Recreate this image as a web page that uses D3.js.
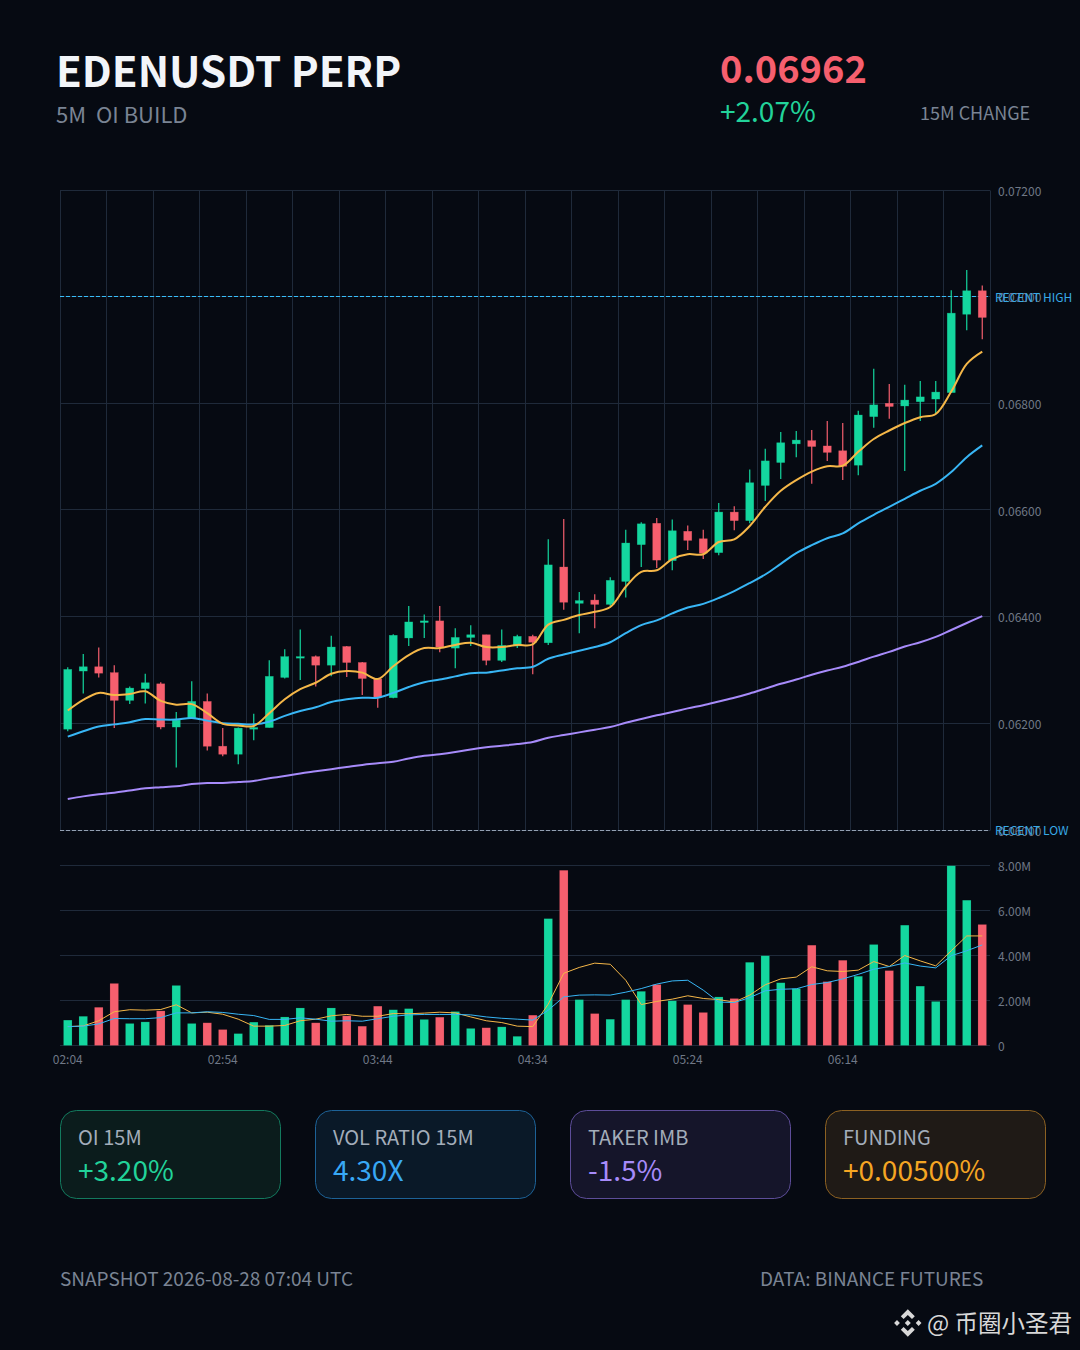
<!DOCTYPE html>
<html><head><meta charset="utf-8">
<script src="https://cdn.jsdelivr.net/npm/d3@7/dist/d3.min.js"></script>
<style>
html,body{margin:0;padding:0;background:#060a12;}
svg{display:block;font-family:"Noto Sans CJK SC","Noto Sans",sans-serif;}
</style></head><body><svg id="c" width="1080" height="1350"></svg>
<script>
const opens=[0.0619,0.06299,0.06307,0.06296,0.06244,0.06266,0.06275,0.06194,0.06211,0.06242,0.06158,0.06143,0.0619,0.06193,0.06287,0.06325,0.06326,0.0631,0.06345,0.06315,0.06284,0.06249,0.06361,0.0639,0.06393,0.06342,0.06362,0.06367,0.06319,0.06346,0.06364,0.06352,0.06494,0.06426,0.06432,0.06424,0.06467,0.06536,0.06576,0.06506,0.06561,0.06547,0.06521,0.06597,0.06581,0.06647,0.0669,0.06725,0.06731,0.06721,0.06712,0.06685,0.06776,0.06801,0.06796,0.06804,0.06809,0.06821,0.06968,0.07012];
const highs=[0.06306,0.06331,0.06343,0.0631,0.0627,0.06294,0.06278,0.06222,0.0628,0.06257,0.06192,0.06193,0.06219,0.06319,0.0634,0.06377,0.06328,0.06365,0.06346,0.06316,0.06286,0.06368,0.06421,0.06405,0.06421,0.06379,0.06385,0.06367,0.06377,0.06367,0.06367,0.06546,0.06584,0.06447,0.06443,0.06475,0.06564,0.06578,0.06586,0.06583,0.06572,0.06564,0.06614,0.06608,0.06677,0.06716,0.06747,0.06749,0.06751,0.06768,0.06764,0.06787,0.06866,0.06837,0.06836,0.06843,0.06843,0.07013,0.07051,0.07022];
const lows=[0.06186,0.06257,0.06287,0.06192,0.06237,0.06238,0.0619,0.06118,0.0621,0.0615,0.06139,0.06124,0.06169,0.06193,0.06285,0.06282,0.0627,0.06289,0.06288,0.06254,0.0623,0.06248,0.06346,0.06361,0.06334,0.06304,0.06346,0.0631,0.06316,0.06342,0.06293,0.06348,0.06414,0.0637,0.06379,0.06421,0.06437,0.06494,0.06492,0.06488,0.06526,0.06509,0.06516,0.06563,0.06576,0.06618,0.06659,0.067,0.0665,0.06693,0.06657,0.06666,0.06755,0.06772,0.06674,0.06768,0.06781,0.06821,0.06938,0.06921];
const closes=[0.06302,0.06307,0.06295,0.06244,0.06267,0.06277,0.06194,0.06207,0.06242,0.06158,0.06143,0.06192,0.06193,0.06289,0.06326,0.06326,0.0631,0.06344,0.06315,0.06285,0.0625,0.06366,0.06391,0.06393,0.06344,0.06362,0.06367,0.06319,0.06347,0.06364,0.06353,0.06498,0.06428,0.06431,0.06424,0.06469,0.06539,0.06575,0.06507,0.06562,0.06544,0.0652,0.06597,0.06581,0.06652,0.06693,0.06727,0.06732,0.0672,0.06709,0.06683,0.06779,0.06798,0.06795,0.06807,0.06813,0.06822,0.0697,0.07012,0.06962];
const emaFast=[0.06225,0.06245,0.06258,0.06254,0.06256,0.06261,0.06243,0.06236,0.06237,0.0622,0.062,0.06197,0.06196,0.0622,0.06246,0.06265,0.06277,0.06294,0.06299,0.06296,0.06284,0.06308,0.06329,0.06342,0.06342,0.06348,0.06352,0.06344,0.06344,0.06348,0.06349,0.06386,0.06395,0.06404,0.0641,0.06419,0.06457,0.06485,0.06488,0.06509,0.06518,0.06518,0.06541,0.06546,0.06571,0.06607,0.06637,0.06657,0.06673,0.06683,0.06684,0.0671,0.06734,0.0675,0.06764,0.06775,0.06781,0.06823,0.06875,0.06898];
const emaMid=[0.06176,0.06186,0.06195,0.06199,0.06203,0.06209,0.06208,0.06208,0.06211,0.06206,0.06201,0.062,0.06199,0.06204,0.06215,0.06224,0.06231,0.06241,0.06246,0.06249,0.06249,0.06258,0.06269,0.06278,0.06283,0.06289,0.06295,0.06296,0.063,0.06304,0.06307,0.06322,0.0633,0.06337,0.06344,0.06353,0.0637,0.06385,0.06394,0.06407,0.06418,0.06425,0.06436,0.06449,0.06464,0.0648,0.065,0.0652,0.06535,0.06548,0.06557,0.06576,0.06592,0.06607,0.06622,0.06637,0.0665,0.06672,0.067,0.06722];
const emaSlow=[0.06059,0.06064,0.06068,0.06071,0.06075,0.06079,0.06081,0.06083,0.06087,0.06089,0.06089,0.06091,0.06093,0.06098,0.06102,0.06107,0.06111,0.06115,0.06119,0.06123,0.06126,0.06129,0.06135,0.0614,0.06143,0.06147,0.06152,0.06156,0.06159,0.06162,0.06166,0.06174,0.06179,0.06184,0.06189,0.06194,0.06202,0.06209,0.06216,0.06222,0.06229,0.06235,0.06242,0.06249,0.06257,0.06266,0.06275,0.06283,0.06292,0.063,0.06307,0.06316,0.06326,0.06335,0.06345,0.06353,0.06363,0.06376,0.06389,0.06402];
const volumes=[1.13,1.30,1.70,2.76,0.98,1.05,1.54,2.67,0.98,1.01,0.71,0.53,1.04,0.90,1.27,1.67,1.01,1.67,1.32,0.86,1.75,1.59,1.64,1.16,1.26,1.51,0.76,0.79,0.83,0.41,1.35,5.64,7.79,2.04,1.42,1.17,2.04,2.41,2.71,1.99,1.82,1.47,2.16,2.09,3.70,3.99,2.79,2.53,4.46,2.84,3.79,3.08,4.49,3.33,5.35,2.64,1.96,7.99,6.46,5.38];
const volFast=[0.84,0.87,1.10,1.50,1.59,1.57,1.60,1.81,1.45,1.48,1.39,1.17,0.86,0.86,0.89,1.10,1.17,1.32,1.38,1.30,1.30,1.42,1.41,1.44,1.48,1.45,1.27,1.10,1.02,0.86,0.84,1.84,3.21,3.47,3.66,3.61,2.90,1.82,1.96,2.06,2.21,2.09,2.04,1.93,2.24,2.70,2.96,3.04,3.50,3.32,3.29,3.35,3.73,3.51,4.00,3.76,3.54,4.21,4.87,4.87];
const volSlow=[0.84,0.86,0.96,1.20,1.19,1.19,1.24,1.45,1.45,1.50,1.47,1.39,1.33,1.16,1.16,1.23,1.17,1.08,1.10,1.08,1.19,1.30,1.36,1.38,1.38,1.38,1.36,1.27,1.21,1.17,1.13,1.57,2.16,2.24,2.25,2.24,2.37,2.53,2.73,2.87,2.90,2.46,1.93,1.91,2.13,2.43,2.50,2.52,2.71,2.80,2.96,3.16,3.39,3.51,3.67,3.53,3.45,3.99,4.21,4.47];
const timeLabels=["02:04","02:54","03:44","04:34","05:24","06:14"];
const timeLabelIdx=[0,10,20,30,40,50];
const priceTicks=[0.072,0.07,0.068,0.066,0.064,0.062,0.06];
const volTicks=[0,2,4,6,8];
const recentHigh=0.07, recentLow=0.06;
const cardLabels=["OI 15M","VOL RATIO 15M","TAKER IMB","FUNDING"];
const cardValues=["+3.20%","4.30X","-1.5%","+0.00500%"];
const cardColors=["#22d39a","#38a8f5","#a78bfa","#f5a623"];
const cardBg=["#0b1c1c","#0a1928","#15152a","#1f1a16"];
const cardBorder=["#137a5e","#1d6297","#5d4d99","#8c6122"];

const UP="#14d79f",DOWN="#f65f6e";
const svg=d3.select("#c");
svg.append("rect").attr("width",1080).attr("height",1350).attr("fill","#060a12");
const idx=d3.range(opens.length);
const x=d3.scaleBand().domain(idx).range([60,990]);
const cx=i=>x(i)+x.bandwidth()/2;
const y=d3.scaleLinear().domain([0.06,0.072]).range([830.5,190.5]);
const v=d3.scaleLinear().domain([0,8]).range([1045.5,865.5]);
const snapY=t=>Math.floor(y(t)-0.5)+0.5;
const GRID="#1f2a3a";
const txt=(s,px,py,size,fill,w,a)=>svg.append("text").attr("x",px).attr("y",py).attr("font-size",size).attr("fill",fill).attr("font-weight",w||400).attr("text-anchor",a||"start").text(s);

txt("EDENUSDT PERP",56,87,42,"#f2f5f9",700);
txt("5M  OI BUILD",56,123,22,"#7a8494").style("white-space","pre");
txt("0.06962",720,83,38,"#f65f6e",700);
txt("+2.07%",720,122,28,"#22d39a");
txt("15M CHANGE",920,120,18,"#7a8494");

// price panel grid
const gx=svg.append("g");
idx.filter(i=>i%3===0).concat([60]).forEach(i=>{
  const px=i===60?990.5:Math.floor(x(i))+0.5;
  gx.append("line").attr("x1",px).attr("x2",px).attr("y1",190.5).attr("y2",830.5).attr("stroke",GRID);
});
priceTicks.forEach(t=>{
  gx.append("line").attr("x1",60).attr("x2",990).attr("y1",snapY(t)).attr("y2",snapY(t)).attr("stroke",GRID);
  txt(t.toFixed(5),998,y(t)+5,12,"#6f7886");
});
const hl=svg.append("g");
hl.append("line").attr("x1",60).attr("x2",990).attr("y1",snapY(recentHigh)).attr("y2",snapY(recentHigh)).attr("stroke","#38bdf8").attr("stroke-dasharray","4 2");
hl.append("line").attr("x1",60).attr("x2",990).attr("y1",snapY(recentLow)).attr("y2",snapY(recentLow)).attr("stroke","#93a0b2").attr("stroke-dasharray","4 2");
txt("RECENT HIGH",995,y(recentHigh)+4.5,12,"#38a9e6");
txt("RECENT LOW",995,y(recentLow)+4.5,12,"#38a9e6");

// candles
const bw=8;
const cg=svg.append("g");
idx.forEach(i=>{
  const up=closes[i]>=opens[i],col=up?UP:DOWN,px=cx(i);
  cg.append("line").attr("x1",px).attr("x2",px).attr("y1",y(highs[i])).attr("y2",y(lows[i])).attr("stroke",col).attr("stroke-width",1.2);
  const t=y(Math.max(opens[i],closes[i])),b=y(Math.min(opens[i],closes[i]));
  cg.append("rect").attr("x",px-bw/2).attr("y",t).attr("width",bw).attr("height",Math.max(b-t,1.5)).attr("fill",col).attr("stroke",col).attr("stroke-opacity",.5).attr("stroke-width",.6);
});
const line=(a,sc)=>d3.line().x((d,i)=>cx(i)).y(d=>sc(d)).curve(d3.curveCatmullRom.alpha(0.5))(a);
[[emaSlow,"#a78bfa"],[emaMid,"#38b6f5"],[emaFast,"#f5b748"]].forEach(([a,c])=>svg.append("path").attr("d",line(a,y)).attr("fill","none").attr("stroke",c).attr("stroke-width",2));

// volume
volTicks.forEach(t=>{
  svg.append("line").attr("x1",60).attr("x2",990).attr("y1",v(t)).attr("y2",v(t)).attr("stroke",GRID);
  txt(t===0?"0":t.toFixed(2)+"M",998,v(t)+5,12,"#6f7886");
});
const vw=8.6;
idx.forEach(i=>{
  const col=closes[i]>=opens[i]?UP:DOWN;
  svg.append("rect").attr("x",cx(i)-vw/2).attr("y",v(volumes[i])).attr("width",vw).attr("height",v(0)-v(volumes[i])).attr("fill",col).attr("stroke","#000").attr("stroke-opacity",.25).attr("stroke-width",.6);
});
const vline=d3.line().x((d,i)=>cx(i)).y(d=>v(d));
[[volFast,"#f5b748"],[volSlow,"#38b6f5"]].forEach(([a,c])=>svg.append("path").attr("d",vline(a)).attr("fill","none").attr("stroke",c).attr("stroke-width",1));
timeLabels.forEach((s,k)=>txt(s,cx(timeLabelIdx[k]),1064,12,"#6f7886",400,"middle"));

// cards
cardLabels.forEach((s,k)=>{
  const cxx=60.5+255*k;
  svg.append("rect").attr("x",cxx).attr("y",1110.5).attr("width",220).attr("height",88).attr("rx",16).attr("fill",cardBg[k]).attr("stroke",cardBorder[k]);
  txt(s,cxx+17.5,1145,20,"#a3adba");
  txt(cardValues[k],cxx+17.5,1181,28,cardColors[k]);
});

txt("SNAPSHOT 2026-08-28 07:04 UTC",60,1286,19,"#7a8494");
txt("DATA: BINANCE FUTURES",760,1286,19,"#7a8494");

// watermark
const wm=svg.append("g").attr("transform","translate(907.8,1323)").attr("fill","#d8d8d8");
wm.append("path").attr("d","M0-13.7L7-6.7L4.2-3.9L0-8.1L-4.2-3.9L-7-6.7ZM0 13.7L7 6.7L4.2 3.9L0 8.1L-4.2 3.9L-7 6.7ZM-13.7 0L-10.8-2.9L-7.9 0L-10.8 2.9ZM13.7 0L10.8-2.9L7.9 0L10.8 2.9ZM0-3L3 0L0 3L-3 0Z");
txt("@ 币圈小圣君",927,1332,23.5,"#d8d8d8");
</script></body></html>
